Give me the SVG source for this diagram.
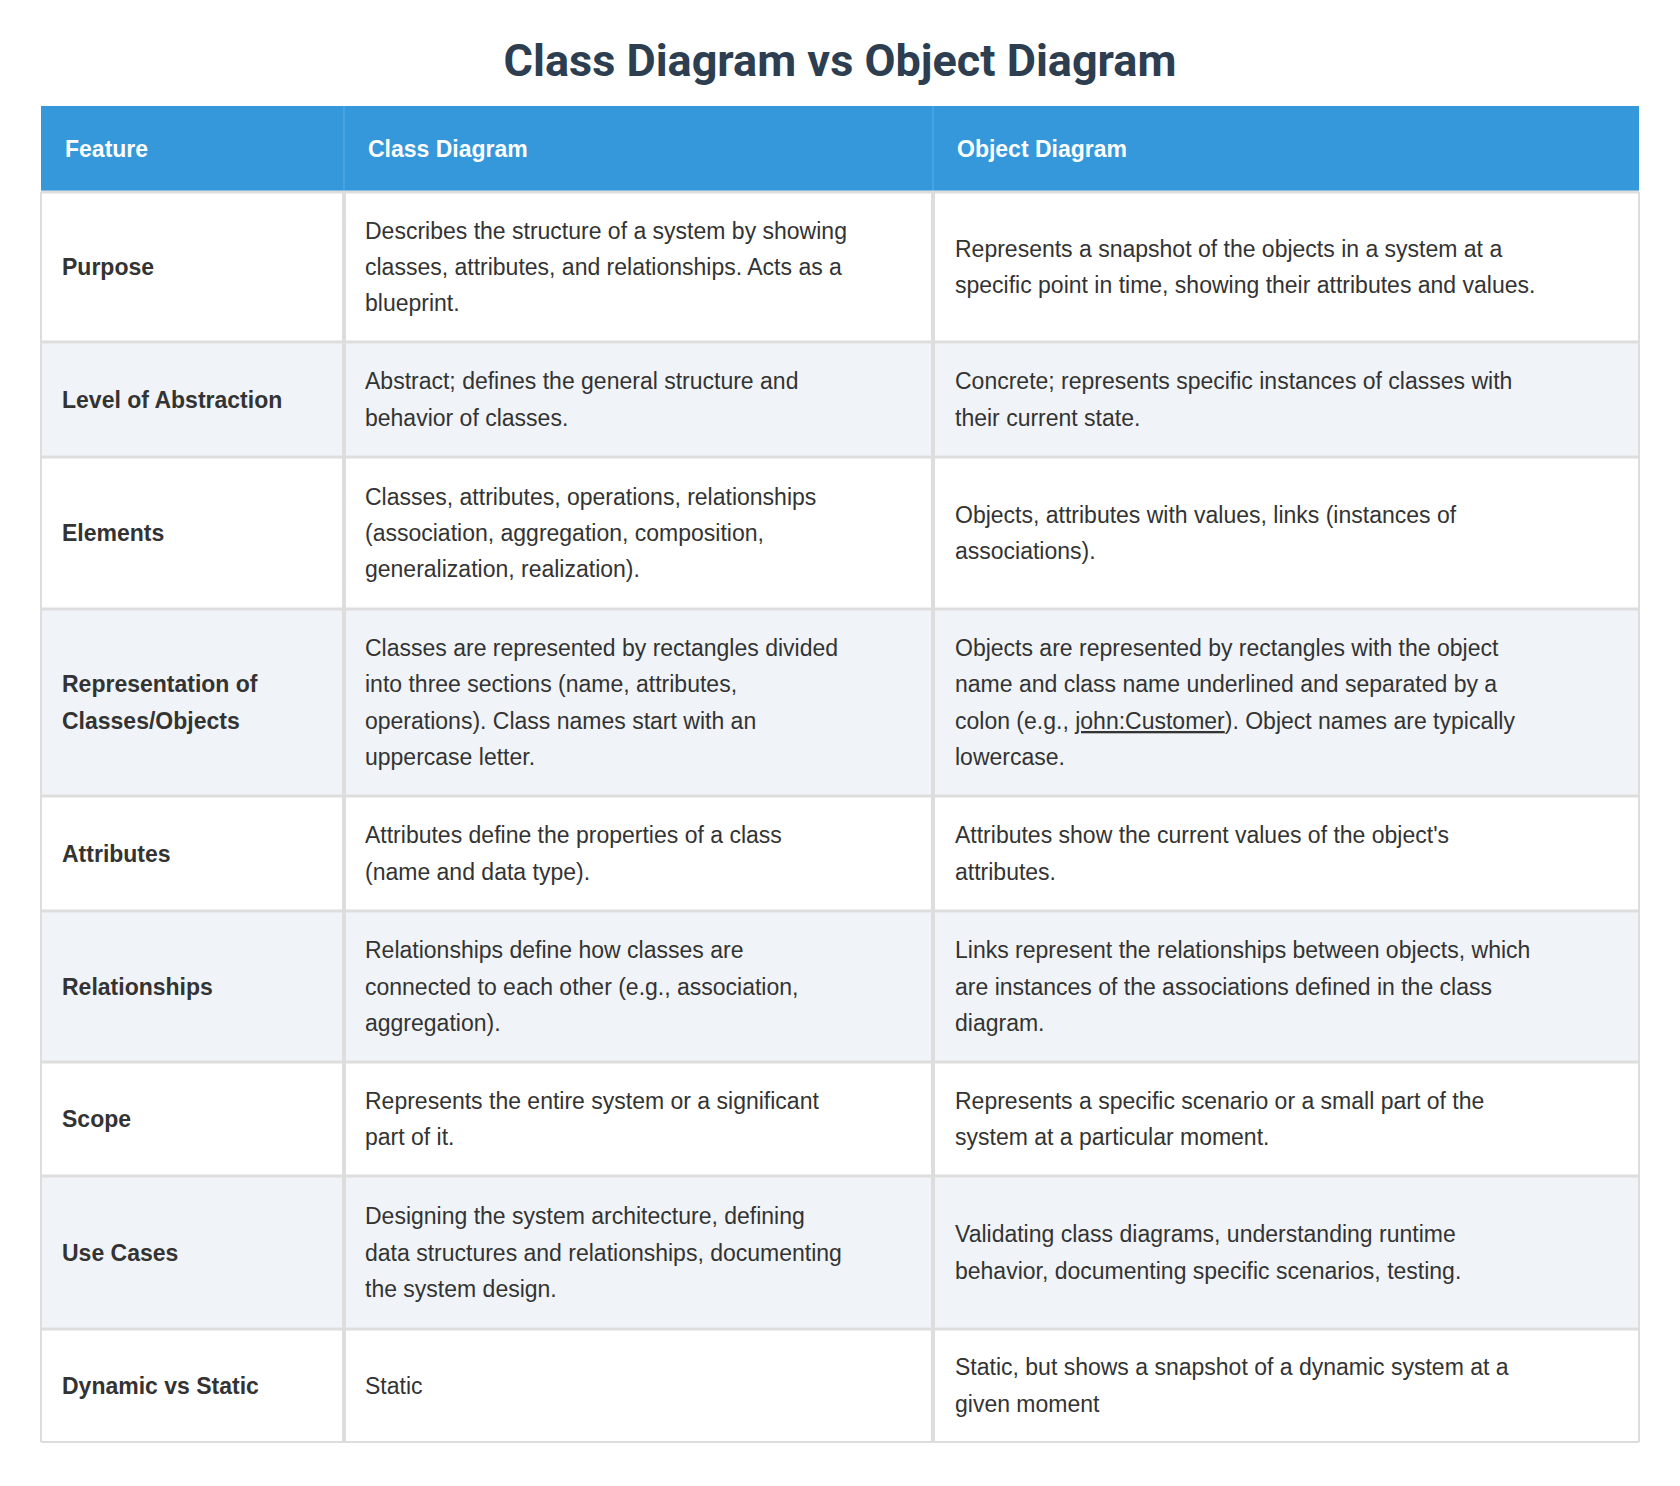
<svg xmlns="http://www.w3.org/2000/svg" width="1680" height="1486" viewBox="0 0 1680 1486">
<style>
.t{font-family:"Liberation Sans",Arial,sans-serif;font-size:23px;fill:#333}
.f{font-family:"Liberation Sans",Arial,sans-serif;font-size:23px;font-weight:bold;fill:#333}
.h{font-family:"Liberation Sans",Arial,sans-serif;font-size:23px;font-weight:bold;fill:#fff}
.ttl{font-family:Roboto,"Liberation Sans",sans-serif;font-size:45px;font-weight:bold;fill:#2c3e50}
.w{fill:#fff}.l{fill:#f0f4f8}
.g{stroke:#ddd;stroke-width:3;fill:none}
</style>
<rect width="1680" height="1486" fill="#fff"/>
<text class="ttl" x="840" y="76" text-anchor="middle">Class Diagram vs Object Diagram</text>
<g id="header">
<rect x="41" y="106" width="1598" height="86" fill="#3498db"/>
<line x1="344" y1="106" x2="344" y2="192" stroke="#5aaee6" stroke-width="1"/>
<line x1="933" y1="106" x2="933" y2="192" stroke="#5aaee6" stroke-width="1"/>
<text class="h" x="65" y="157">Feature</text>
<text class="h" x="368" y="157">Class Diagram</text>
<text class="h" x="957" y="157">Object Diagram</text>
</g>
<g id="rows-bg">
<rect class="w" x="41" y="192" width="1598" height="150"/>
<rect class="l" x="41" y="342" width="1598" height="115"/>
<rect class="w" x="41" y="457" width="1598" height="152"/>
<rect class="l" x="41" y="609" width="1598" height="187"/>
<rect class="w" x="41" y="796" width="1598" height="115"/>
<rect class="l" x="41" y="911" width="1598" height="151"/>
<rect class="w" x="41" y="1062" width="1598" height="114"/>
<rect class="l" x="41" y="1176" width="1598" height="153"/>
<rect class="w" x="41" y="1329" width="1598" height="113"/>
</g>
<g id="grid" class="g">
<line x1="41" y1="192" x2="1639" y2="192"/>
<line x1="41" y1="342" x2="1639" y2="342"/>
<line x1="41" y1="457" x2="1639" y2="457"/>
<line x1="41" y1="609" x2="1639" y2="609"/>
<line x1="41" y1="796" x2="1639" y2="796"/>
<line x1="41" y1="911" x2="1639" y2="911"/>
<line x1="41" y1="1062" x2="1639" y2="1062"/>
<line x1="41" y1="1176" x2="1639" y2="1176"/>
<line x1="41" y1="1329" x2="1639" y2="1329"/>
<line x1="41" y1="1442" x2="1639" y2="1442" stroke-width="2"/>
<line x1="41" y1="192" x2="41" y2="1442" stroke-width="2"/>
<line x1="344" y1="192" x2="344" y2="1442" stroke-width="4"/>
<line x1="933" y1="192" x2="933" y2="1442" stroke-width="4"/>
<line x1="1639" y1="192" x2="1639" y2="1442" stroke-width="2"/>
</g>
<g id="row-purpose">
<text class="f" x="62" y="275">Purpose</text>
<text class="t" x="365" y="239">Describes the structure of a system by showing</text>
<text class="t" x="365" y="275">classes, attributes, and relationships. Acts as a</text>
<text class="t" x="365" y="311">blueprint.</text>
<text class="t" x="955" y="257">Represents a snapshot of the objects in a system at a</text>
<text class="t" x="955" y="293">specific point in time, showing their attributes and values.</text>
</g>
<g id="row-abstraction">
<text class="f" x="62" y="408">Level of Abstraction</text>
<text class="t" x="365" y="389">Abstract; defines the general structure and</text>
<text class="t" x="365" y="426">behavior of classes.</text>
<text class="t" x="955" y="389">Concrete; represents specific instances of classes with</text>
<text class="t" x="955" y="426">their current state.</text>
</g>
<g id="row-elements">
<text class="f" x="62" y="541">Elements</text>
<text class="t" x="365" y="505">Classes, attributes, operations, relationships</text>
<text class="t" x="365" y="541">(association, aggregation, composition,</text>
<text class="t" x="365" y="577">generalization, realization).</text>
<text class="t" x="955" y="523">Objects, attributes with values, links (instances of</text>
<text class="t" x="955" y="559">associations).</text>
</g>
<g id="row-representation">
<text class="f" x="62" y="692">Representation of</text>
<text class="f" x="62" y="729">Classes/Objects</text>
<text class="t" x="365" y="656">Classes are represented by rectangles divided</text>
<text class="t" x="365" y="692">into three sections (name, attributes,</text>
<text class="t" x="365" y="729">operations). Class names start with an</text>
<text class="t" x="365" y="765">uppercase letter.</text>
<text class="t" x="955" y="656">Objects are represented by rectangles with the object</text>
<text class="t" x="955" y="692">name and class name underlined and separated by a</text>
<text class="t" x="955" y="729">colon (e.g., <tspan text-decoration="underline">john:Customer</tspan>). Object names are typically</text>
<text class="t" x="955" y="765">lowercase.</text>
</g>
<g id="row-attributes">
<text class="f" x="62" y="862">Attributes</text>
<text class="t" x="365" y="843">Attributes define the properties of a class</text>
<text class="t" x="365" y="880">(name and data type).</text>
<text class="t" x="955" y="843">Attributes show the current values of the object's</text>
<text class="t" x="955" y="880">attributes.</text>
</g>
<g id="row-relationships">
<text class="f" x="62" y="995">Relationships</text>
<text class="t" x="365" y="958">Relationships define how classes are</text>
<text class="t" x="365" y="995">connected to each other (e.g., association,</text>
<text class="t" x="365" y="1031">aggregation).</text>
<text class="t" x="955" y="958">Links represent the relationships between objects, which</text>
<text class="t" x="955" y="995">are instances of the associations defined in the class</text>
<text class="t" x="955" y="1031">diagram.</text>
</g>
<g id="row-scope">
<text class="f" x="62" y="1127">Scope</text>
<text class="t" x="365" y="1109">Represents the entire system or a significant</text>
<text class="t" x="365" y="1145">part of it.</text>
<text class="t" x="955" y="1109">Represents a specific scenario or a small part of the</text>
<text class="t" x="955" y="1145">system at a particular moment.</text>
</g>
<g id="row-usecases">
<text class="f" x="62" y="1261">Use Cases</text>
<text class="t" x="365" y="1224">Designing the system architecture, defining</text>
<text class="t" x="365" y="1261">data structures and relationships, documenting</text>
<text class="t" x="365" y="1297">the system design.</text>
<text class="t" x="955" y="1242">Validating class diagrams, understanding runtime</text>
<text class="t" x="955" y="1279">behavior, documenting specific scenarios, testing.</text>
</g>
<g id="row-dynamic">
<text class="f" x="62" y="1394">Dynamic vs Static</text>
<text class="t" x="365" y="1394">Static</text>
<text class="t" x="955" y="1375">Static, but shows a snapshot of a dynamic system at a</text>
<text class="t" x="955" y="1412">given moment</text>
</g>
</svg>
